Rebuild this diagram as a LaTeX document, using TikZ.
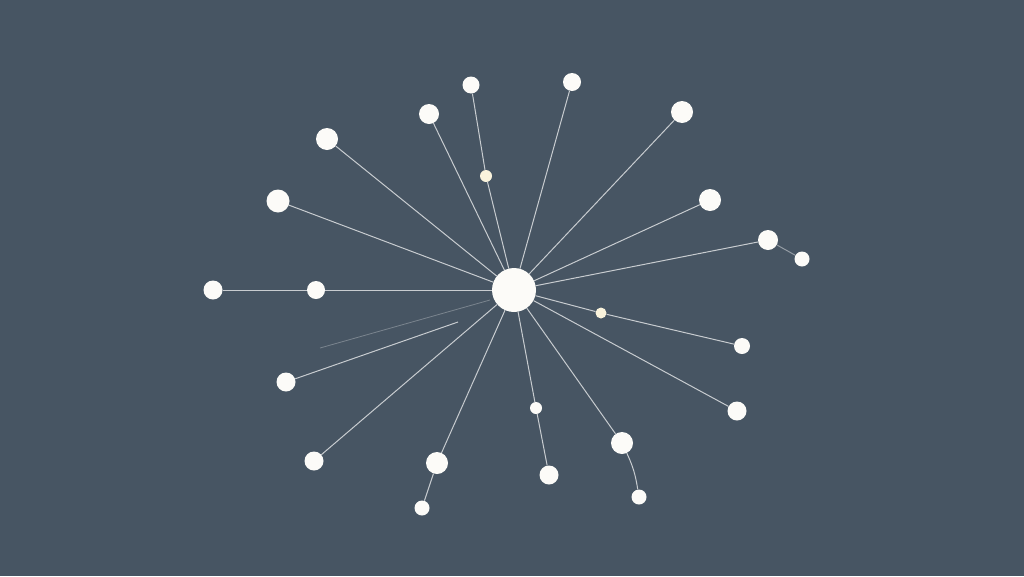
\documentclass[tikz,border=0pt]{standalone}
\begin{document}
\begin{tikzpicture}[x=1pt,y=-1pt,
  dot/.style={circle,fill=dotwhite,inner sep=0pt,draw=none},
  cream/.style={circle,fill=dotcream,inner sep=0pt,draw=none},
  link/.style={draw=linegray,line width=1pt},
  faint/.style={draw=linegray,line width=0.8pt,opacity=0.4}]
\definecolor{bg}{RGB}{71,85,99}
\definecolor{dotwhite}{RGB}{252,251,248}
\definecolor{dotcream}{RGB}{250,243,220}
\definecolor{linegray}{RGB}{200,204,208}
\fill[bg] (0,0) rectangle (1024,576);
\useasboundingbox (0,0) rectangle (1024,576);
% nodes
\node[dot,minimum size=44pt] (c) at (514,290) {};
\node[dot,minimum size=17pt] (a) at (471,85) {};
\node[cream,minimum size=12pt] (a2) at (486,176) {};
\node[dot,minimum size=20pt] (b) at (429,114) {};
\node[dot,minimum size=18pt] (cc) at (572,82) {};
\node[dot,minimum size=22pt] (d) at (682,112) {};
\node[dot,minimum size=22pt] (e) at (327,139) {};
\node[dot,minimum size=23pt] (f) at (278,201) {};
\node[dot,minimum size=22pt] (g) at (710,200) {};
\node[dot,minimum size=20pt] (h) at (768,240) {};
\node[dot,minimum size=15pt] (i) at (802,259) {};
\node[dot,minimum size=19pt] (j) at (213,290) {};
\node[dot,minimum size=18pt] (k) at (316,290) {};
\node[cream,minimum size=11pt] (l) at (601,313) {};
\node[dot,minimum size=16pt] (m) at (742,346) {};
\node[dot,minimum size=19pt] (n) at (737,411) {};
\node[dot,minimum size=19pt] (o) at (286,382) {};
\node[dot,minimum size=19pt] (p) at (314,461) {};
\node[dot,minimum size=22pt] (q) at (437,463) {};
\node[dot,minimum size=15pt] (r) at (422,508) {};
\node[dot,minimum size=12pt] (s) at (536,408) {};
\node[dot,minimum size=19pt] (t) at (549,475) {};
\node[dot,minimum size=22pt] (u) at (622,443) {};
\node[dot,minimum size=15pt] (v) at (639,497) {};
\coordinate (oend) at (458,322);
\coordinate (fs) at (320,348);
\coordinate (fe) at (490,300);
% connectors
\path[link] (c) -- (a2);
\path[link] (a2) -- (a);
\path[link] (c) -- (b);
\path[link] (c) -- (cc);
\path[link] (c) -- (d);
\path[link] (c) -- (e);
\path[link] (c) -- (f);
\path[link] (c) -- (g);
\path[link] (c) -- (h);
\path[link,opacity=0.6] (h) -- (i);
\path[link] (j) -- (k);
\path[link] (k) -- (c);
\path[link] (c) -- (l);
\path[link] (l) -- (m);
\path[link] (c) -- (n);
\path[link] (o) -- (oend);
\path[faint] (fs) -- (fe);
\path[link] (c) -- (p);
\path[link] (c) -- (q);
\path[link] (q) -- (r);
\path[link] (c) -- (s);
\path[link] (s) -- (t);
\path[link] (c) -- (u);
\path[link] (u) to[bend left=8] (v);
\end{tikzpicture}
\end{document}
